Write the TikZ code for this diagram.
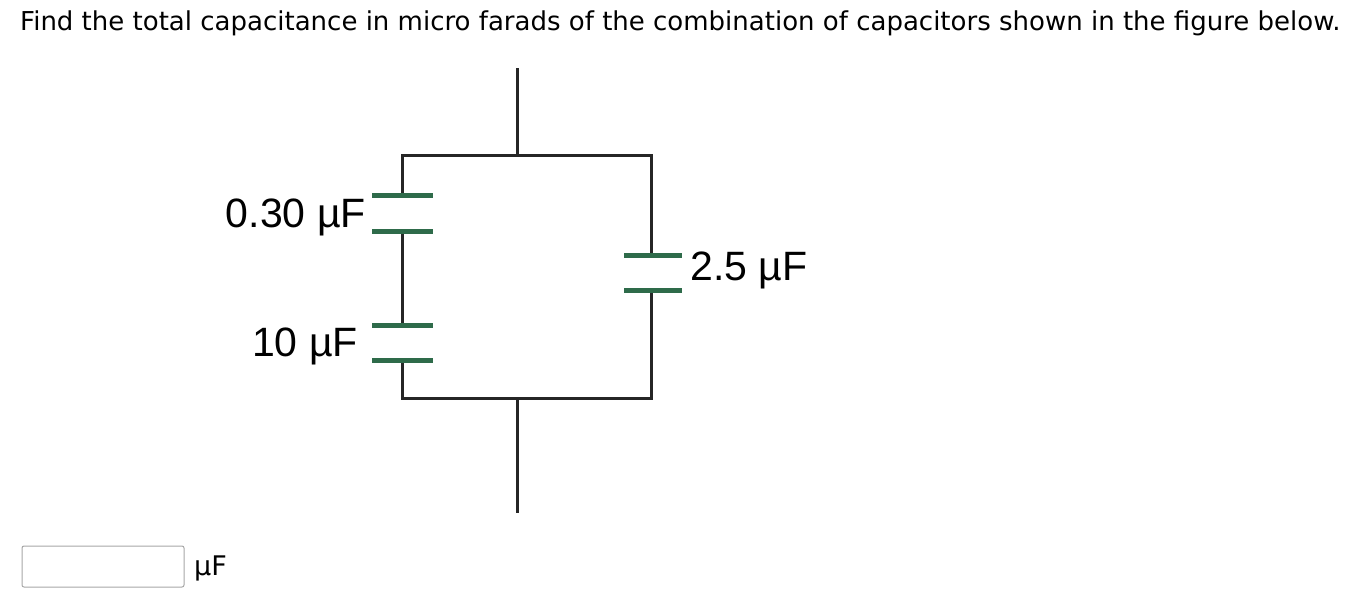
\documentclass[tikz,border=0pt]{standalone}
\usepackage{fontspec}
\setmainfont{DejaVu Sans}
\newfontfamily\lab{Liberation Sans}
\definecolor{plate}{HTML}{2E6B4A}
\begin{document}
\begin{tikzpicture}[x=1pt,y=-1pt,
  wire/.style={line width=3pt,black!85},
  plt/.style={line width=5pt,plate},
  lbl/.style={font=\lab\fontsize{41}{42}\selectfont,inner sep=0pt}]
\useasboundingbox (0,0) rectangle (1358,600);
\node[anchor=west,inner sep=0pt,font=\fontsize{26}{28}\selectfont] (title) at (20,23) {Find the total capacitance in micro farads of the combination of capacitors shown in the figure below.};
\coordinate (top) at (517,68);
\coordinate (tc) at (517,155);
\coordinate (tl) at (402,155);
\coordinate (tr) at (651,155);
\coordinate (bl) at (402,398);
\coordinate (br) at (651,398);
\coordinate (bc) at (517,398);
\coordinate (bot) at (517,513);
\coordinate (a1) at (402,195.5);
\coordinate (a2) at (402,231);
\coordinate (b1) at (402,325);
\coordinate (b2) at (402,360);
\coordinate (c1) at (651,255.5);
\coordinate (c2) at (651,290);
\draw[wire] (top) -- (tc);
\draw[wire] (a1) -- (tl) -- (tr) -- (c1);
\draw[wire] (a2) -- (b1);
\draw[wire] (b2) -- (bl) -- (br) -- (c2);
\draw[wire] (bc) -- (bot);
\foreach \p in {a1,a2,b1,b2}{\draw[plt] ([xshift=-30pt]\p) -- ([xshift=31pt]\p);}
\foreach \p in {c1,c2}{\draw[plt] ([xshift=-27pt]\p) -- ([xshift=31pt]\p);}
\node[lbl,anchor=east] (l1) at (366,217) {0.30 µF};
\node[lbl,anchor=east] (l2) at (358,346) {10 µF};
\node[lbl,anchor=west] (l3) at (690,270) {2.5 µF};
\draw[gray!70,line width=1pt,rounded corners=2pt] (22,546) rectangle (184,587);
\node[anchor=west,inner sep=0pt,font=\fontsize{27}{28}\selectfont] (unit) at (194,568) {µF};
\end{tikzpicture}
\end{document}
